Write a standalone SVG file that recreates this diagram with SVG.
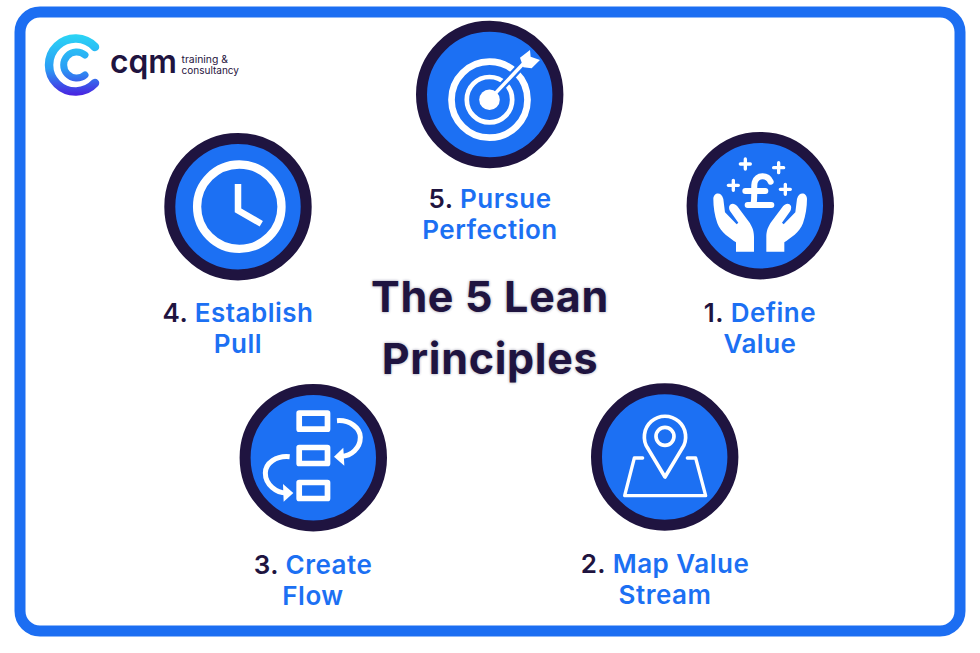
<svg xmlns="http://www.w3.org/2000/svg" width="980" height="653" viewBox="0 0 980 653">
<style>
.ring{fill:#1c70f3;stroke:#1f1440;stroke-width:11}
.w{fill:#fff}
.o{fill:none;stroke:#fff;stroke-linecap:round;stroke-linejoin:round}
.b{fill:none;stroke:#fff}
.l{font-family:Inter,"Open Sans",sans-serif;font-weight:600;font-size:26px;letter-spacing:.5px;text-anchor:middle;fill:#1c70f3}
.d{fill:#1f1440}
.t{font-family:Inter,"Open Sans",sans-serif;font-weight:700;font-size:43px;letter-spacing:.7px;text-anchor:middle;fill:#1f1440}
.c{font-family:Inter,sans-serif;font-size:10px;fill:#1f1440}
</style>
<defs>
<linearGradient id="g" gradientUnits="userSpaceOnUse" x1="0" y1="35" x2="0" y2="96"><stop offset="0" stop-color="#2bd4f5"/><stop offset=".55" stop-color="#2a9df5"/><stop offset="1" stop-color="#4a1fe0"/></linearGradient>
<filter id="s" x="-10%" y="-20%" width="120%" height="140%"><feGaussianBlur stdDeviation="1.6"/></filter>
</defs>
<rect width="980" height="653" fill="#fff"/>
<rect id="frame" x="20" y="12" width="940" height="619" rx="20" fill="#fff" stroke="#1c6ef2" stroke-width="11"/>
<g id="logo">
<path d="M95 47A26.500 26.500 0 1 0 95 83" fill="none" stroke="url(#g)" stroke-width="8.500" stroke-linecap="round"/>
<path d="M85 55A13 13 0 1 0 85 75" fill="none" stroke="url(#g)" stroke-width="7" stroke-linecap="round"/>
<text x="110" y="73" font-family="Inter,sans-serif" font-weight="600" font-size="32" fill="#1f1440" textLength="67" lengthAdjust="spacingAndGlyphs">cqm</text>
<text class="c" x="181.500" y="63.300" textLength="46.500" lengthAdjust="spacingAndGlyphs">training &amp;</text>
<text class="c" x="181.500" y="74.300" textLength="57.500" lengthAdjust="spacingAndGlyphs">consultancy</text>
</g>
<g id="n5">
<circle class="ring" cx="489.700" cy="94.500" r="68.200"/>
<circle cx="489.500" cy="99.700" r="38" fill="none" stroke="#fff" stroke-width="6.700"/>
<circle cx="489.500" cy="99.700" r="22.700" fill="none" stroke="#fff" stroke-width="4.700"/>
<path d="M490 99L523 64" fill="none" stroke="#1c70f3" stroke-width="8"/>
<circle cx="489.500" cy="99.700" r="10.300" class="w"/>
<path d="M490 99L523 64" class="o" stroke-width="3.500"/>
<path transform="translate(410 15) scale(.3333)" d="M330 128L360 105L362 125L390 135L365 160L340 157Z" class="w"/>
<text class="l" x="490" y="208"><tspan class="d">5. </tspan>Pursue</text>
<text class="l" x="490" y="239">Perfection</text>
</g>
<g id="n1">
<circle class="ring" cx="760.300" cy="205.700" r="68.200"/>
<g transform="translate(680 125) scale(.3333)">
<path id="hand" class="w" d="M100 222C100 203 124 198 130 222L135 262L170 298L175 293L150 258C140 238 160 228 172 244L205 288C218 305 222 320 222 335V380H168V352C150 340 122 322 112 295C104 272 100 245 100 222Z"/>
<use href="#hand" transform="translate(481 0) scale(-1 1)"/>
<path class="o" stroke-width="18" d="M272 170C262 148 232 148 224 172C220 190 226 215 220 240M196 198H256M203 240H274"/>
<path class="o" stroke-width="10" d="M196 102V132M181 117H211M296 113V143M281 128H311M160 166V196M145 181H175M316 178V208M301 193H331"/>
</g>
<text class="l" x="760" y="322"><tspan class="d">1. </tspan>Define</text>
<text class="l" x="760" y="353">Value</text>
</g>
<g id="n4">
<circle class="ring" cx="238" cy="206.700" r="68.200"/>
<circle cx="239.300" cy="206.700" r="42.200" fill="none" stroke="#fff" stroke-width="8.300"/>
<path d="M238 184V210.300L261.300 223.700" fill="none" stroke="#fff" stroke-width="6.500"/>
<text class="l" x="238" y="322"><tspan class="d">4. </tspan>Establish</text>
<text class="l" x="238" y="353">Pull</text>
</g>
<g id="n3">
<circle class="ring" cx="313.300" cy="457.700" r="68.200"/>
<g class="b" stroke-width="5.700" stroke-linejoin="round">
<rect x="299.200" y="413.200" width="28.300" height="16"/>
<rect x="299.200" y="447.500" width="28.300" height="16"/>
<rect x="299.200" y="482.500" width="28.300" height="16"/>
</g>
<g transform="translate(233 378) scale(.3333)">
<path class="b" stroke-width="15" d="M312 128C350 125 382 150 382 178C382 210 355 235 325 235"/>
<path class="w" d="M303 236L331 209L334 263Z"/>
<path class="b" stroke-width="15" d="M170 236C130 232 97 255 97 285C97 320 130 345 160 345"/>
<path class="w" d="M181 345L150 318L152 371Z"/>
</g>
<text class="l" x="313" y="574"><tspan class="d">3. </tspan>Create</text>
<text class="l" x="313" y="605">Flow</text>
</g>
<g id="n2">
<circle class="ring" cx="664.700" cy="457" r="68.200"/>
<g transform="translate(584 378) scale(.3333)">
<path class="o" stroke-width="11" d="M243 297L192 212A62 62 0 1 1 294 212Z"/>
<circle cx="243" cy="175" r="27" class="b" stroke-width="11"/>
<path class="o" stroke-width="10" d="M176 240H151L122 353H365L335 240H310"/>
</g>
<text class="l" x="665" y="573"><tspan class="d">2. </tspan>Map Value</text>
<text class="l" x="665" y="604">Stream</text>
</g>
<g id="title">
<g filter="url(#s)" opacity=".45"><text class="t" x="490" y="312">The 5 Lean</text><text class="t" x="490" y="374">Principles</text></g>
<text class="t" x="490" y="312">The 5 Lean</text>
<text class="t" x="490" y="374">Principles</text>
</g>
</svg>
